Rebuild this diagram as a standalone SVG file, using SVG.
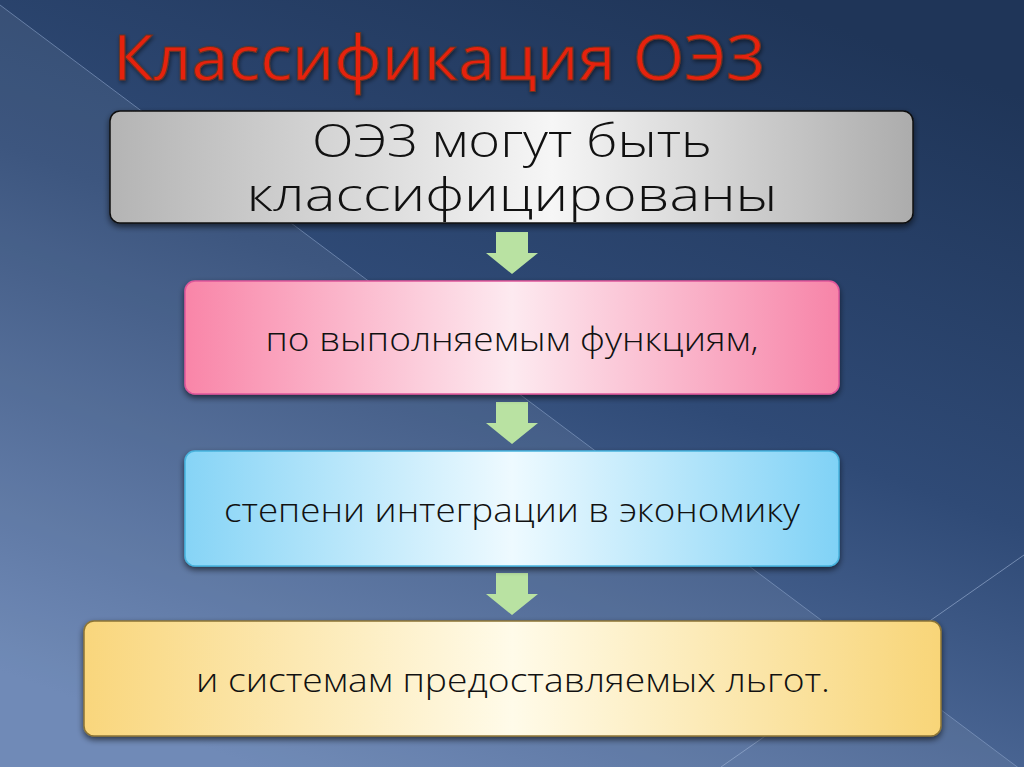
<svg xmlns="http://www.w3.org/2000/svg" width="1024" height="767" viewBox="0 0 1024 767">
<defs>
<linearGradient id="bg" x1="0.75" y1="0" x2="0.25" y2="1">
<stop offset="0" stop-color="#1f3558"/>
<stop offset="0.45" stop-color="#2f4a76"/>
<stop offset="1" stop-color="#6682b2"/>
</linearGradient>
<linearGradient id="gGray" x1="0" y1="0" x2="1" y2="0">
<stop offset="0" stop-color="#b4b4b4"/>
<stop offset="0.55" stop-color="#f6f6f6"/>
<stop offset="1" stop-color="#acacac"/>
</linearGradient>
<linearGradient id="gPink" x1="0" y1="0" x2="1" y2="0">
<stop offset="0" stop-color="#f985a8"/>
<stop offset="0.5" stop-color="#fdeaf0"/>
<stop offset="1" stop-color="#f784a8"/>
</linearGradient>
<linearGradient id="gBlue" x1="0" y1="0" x2="1" y2="0">
<stop offset="0" stop-color="#86d4f6"/>
<stop offset="0.5" stop-color="#eefaff"/>
<stop offset="1" stop-color="#80d2f6"/>
</linearGradient>
<linearGradient id="gYellow" x1="0" y1="0" x2="1" y2="0">
<stop offset="0" stop-color="#f9d67c"/>
<stop offset="0.5" stop-color="#fffbe9"/>
<stop offset="1" stop-color="#f8d578"/>
</linearGradient>
<filter id="shadow" x="-5%" y="-20%" width="110%" height="150%">
<feGaussianBlur in="SourceAlpha" stdDeviation="3"/>
<feOffset dx="0" dy="3" result="b"/>
<feComponentTransfer><feFuncA type="linear" slope="0.6"/></feComponentTransfer>
<feMerge><feMergeNode/><feMergeNode in="SourceGraphic"/></feMerge>
</filter>
<filter id="tshadow" x="-5%" y="-20%" width="110%" height="150%">
<feGaussianBlur in="SourceAlpha" stdDeviation="2"/>
<feOffset dx="1" dy="2"/>
<feComponentTransfer><feFuncA type="linear" slope="0.5"/></feComponentTransfer>
<feMerge><feMergeNode/><feMergeNode in="SourceGraphic"/></feMerge>
</filter>
</defs>
<style>
.t{font-family:"Open Sans","DejaVu Sans","Liberation Sans",sans-serif;font-weight:300;fill:#111;text-anchor:middle}
.title{font-family:"Open Sans","DejaVu Sans","Liberation Sans",sans-serif;font-weight:400;fill:#e6230f;stroke:#6a3422;stroke-width:1;font-size:62px}
.arrow{fill:#b9e2a2}
</style>
<rect width="1024" height="767" fill="url(#bg)"/>
<polygon points="0,5 1024,772 0,767" fill="#ffffff" opacity="0.07"/>
<line x1="0" y1="5" x2="1024" y2="772" stroke="#8aa2c8" stroke-width="1" opacity="0.6"/>
<line x1="1024" y1="555" x2="721" y2="767" stroke="#9fb4d6" stroke-width="1" opacity="0.6"/>
<text class="title" x="113" y="80" textLength="652" lengthAdjust="spacingAndGlyphs" filter="url(#tshadow)">Классификация ОЭЗ</text>
<g id="connectors">
<polygon class="arrow" points="496,232 528,232 528,253 538,253 512,274 486,253 496,253"/>
<polygon class="arrow" points="496,402 528,402 528,423 538,423 512,444 486,423 496,423"/>
<polygon class="arrow" points="496,573 528,573 528,594 538,594 512,615 486,594 496,594"/>
</g>
<g id="node-main">
<rect x="110" y="111" width="803" height="112" rx="10" fill="url(#gGray)" stroke="#111" stroke-width="1.5" filter="url(#shadow)"/>
<text class="t" x="512" y="157" font-size="46" textLength="400" lengthAdjust="spacingAndGlyphs">ОЭЗ могут быть</text>
<text class="t" x="512" y="211" font-size="46" textLength="531" lengthAdjust="spacingAndGlyphs">классифицированы</text>
</g>
<g id="node-functions">
<rect x="185" y="281" width="654" height="113" rx="10" fill="url(#gPink)" stroke="#e0579a" stroke-width="1.5" filter="url(#shadow)"/>
<text class="t" x="512" y="351" font-size="33" textLength="493" lengthAdjust="spacingAndGlyphs">по выполняемым функциям,</text>
</g>
<g id="node-integration">
<rect x="185" y="451" width="654" height="115" rx="10" fill="url(#gBlue)" stroke="#48b4de" stroke-width="1.5" filter="url(#shadow)"/>
<text class="t" x="512" y="522" font-size="33" textLength="576" lengthAdjust="spacingAndGlyphs">степени интеграции в экономику</text>
</g>
<g id="node-benefits">
<rect x="84" y="621" width="857" height="115" rx="10" fill="url(#gYellow)" stroke="#8c7434" stroke-width="1.5" filter="url(#shadow)"/>
<text class="t" x="513" y="692" font-size="33" textLength="634" lengthAdjust="spacingAndGlyphs">и системам предоставляемых льгот.</text>
</g>
</svg>
